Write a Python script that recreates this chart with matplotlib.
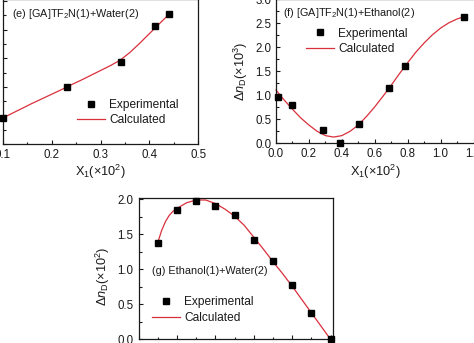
import matplotlib
matplotlib.use("Agg")
import matplotlib.pyplot as plt
from matplotlib.ticker import MultipleLocator
from matplotlib.lines import Line2D

plt.rcParams['font.family'] = ['Liberation Sans', 'DejaVu Sans']
plt.rcParams['mathtext.fontset'] = 'custom'
plt.rcParams['mathtext.rm'] = 'Liberation Sans'
plt.rcParams['mathtext.it'] = 'Liberation Sans:italic'
plt.rcParams['mathtext.bf'] = 'Liberation Sans:bold'

# (e) [GA]TF2N(1) + Water(2)
e_x = [0.10, 0.231, 0.341, 0.411, 0.441]
e_y = [0.91, 1.99, 2.87, 4.14, 4.54]
e_cx = [0.10, 0.12, 0.14, 0.16, 0.18, 0.20, 0.22, 0.24, 0.26, 0.28, 0.30,
        0.32, 0.34, 0.36, 0.38, 0.40, 0.42, 0.441]
e_cy = [0.91, 1.08, 1.25, 1.42, 1.58, 1.74, 1.90, 2.07, 2.23, 2.40, 2.57,
        2.74, 2.93, 3.20, 3.52, 3.86, 4.20, 4.55]

# (f) [GA]TF2N(1) + Ethanol(2)
f_x = [0.014, 0.095, 0.284, 0.389, 0.506, 0.687, 0.784, 1.144]
f_y = [0.97, 0.80, 0.28, 0.0, 0.40, 1.16, 1.62, 2.64]
f_cx = [0.00, 0.05, 0.10, 0.15, 0.20, 0.25, 0.30, 0.35, 0.40, 0.45, 0.50,
        0.55, 0.60, 0.65, 0.70, 0.75, 0.80, 0.85, 0.90, 0.95, 1.00, 1.05,
        1.10, 1.144]
f_cy = [1.11, 0.90, 0.71, 0.53, 0.38, 0.25, 0.16, 0.13, 0.16, 0.25, 0.38,
        0.56, 0.76, 0.98, 1.21, 1.45, 1.68, 1.90, 2.09, 2.26, 2.40, 2.51,
        2.59, 2.64]

# (g) Ethanol(1) + Water(2)
g_x = [0.1, 0.2, 0.3, 0.4, 0.5, 0.6, 0.7, 0.8, 0.9, 1.0]
g_y = [1.38, 1.85, 1.98, 1.90, 1.78, 1.42, 1.12, 0.78, 0.38, 0.0]
g_cx = [0.10, 0.12, 0.14, 0.16, 0.18, 0.20, 0.25, 0.30, 0.35, 0.40, 0.45,
        0.50, 0.55, 0.60, 0.65, 0.70, 0.75, 0.80, 0.85, 0.90, 0.95, 1.00]
g_cy = [1.38, 1.55, 1.68, 1.77, 1.83, 1.87, 1.95, 1.99, 1.99, 1.94, 1.86,
        1.76, 1.63, 1.46, 1.29, 1.11, 0.94, 0.76, 0.57, 0.38, 0.19, 0.00]

W, H = 474, 343
RED = '#d9303c'
INK = '#1a1a1a'
TICK_FS = 8.3
fig = plt.figure(figsize=(W / 100, H / 100), dpi=100)


def rect(left, top, right, bottom):
    return [left / W, 1 - bottom / H, (right - left) / W, (bottom - top) / H]


def style(ax, xmaj, xmin, ymaj, ymin):
    ax.xaxis.set_major_locator(MultipleLocator(xmaj))
    ax.xaxis.set_minor_locator(MultipleLocator(xmin))
    ax.yaxis.set_major_locator(MultipleLocator(ymaj))
    ax.yaxis.set_minor_locator(MultipleLocator(ymin))
    ax.tick_params(which='both', direction='in', colors=INK, width=0.8,
                   labelsize=TICK_FS, pad=3.5)
    ax.tick_params(which='major', length=3.2)
    ax.tick_params(which='minor', length=1.8)
    for s in ax.spines.values():
        s.set_linewidth(0.9)
        s.set_color(INK)
    ax.set_facecolor('none')


def draw(ax, x, y, cx, cy):
    ax.plot(cx, cy, color=RED, lw=0.9, clip_on=False, zorder=2)
    ax.plot(x, y, 's', color='black', ms=4.6, clip_on=False, zorder=3)


def legend(ax, x0, y0):
    handles = [Line2D([], [], ls='none', marker='s', color='black', ms=4.6),
               Line2D([], [], color=RED, lw=0.9)]
    ax.legend(handles, ['Experimental', 'Calculated'], frameon=False,
              loc='upper left', bbox_to_anchor=(x0 / W, 1 - y0 / H),
              bbox_transform=fig.transFigure, borderaxespad=0, borderpad=0,
              handlelength=2.4, handletextpad=0.35, labelspacing=0.28,
              fontsize=8.6, labelcolor=INK)


# panel e
ax_e = fig.add_axes(rect(2.8, -0.7, 198.3, 144))
ax_e.set_xlim(0.1, 0.5)
ax_e.set_ylim(0, 144.7 / 28.6)
style(ax_e, 0.1, 0.05, 1.0, 0.5)
ax_e.tick_params(axis='y', labelleft=False)
draw(ax_e, e_x, e_y, e_cx, e_cy)
legend(ax_e, 76.5, 99)
fig.text(12.5 / W, 1 - 14 / H, '(e) [GA]TF$_2$N(1)+Water(2)', fontsize=7.8,
         color=INK, va='center', ha='left')
fig.text(100 / W, 1 - 172 / H, 'X$_1$(×10$^2$)', fontsize=9.2, color=INK,
         ha='center', va='center')

# panel f
ax_f = fig.add_axes(rect(276, -0.7, 276 + 1.25 * 164.6, 143.3))
ax_f.set_xlim(0, 1.25)
ax_f.set_ylim(0, 3.0)
style(ax_f, 0.2, 0.1, 0.5, 0.25)
ax_f.spines['right'].set_visible(False)
draw(ax_f, f_x, f_y, f_cx, f_cy)
legend(ax_f, 305.5, 27.5)
fig.text(283 / W, 1 - 12.7 / H, '(f) [GA]TF$_2$N(1)+Ethanol(2)', fontsize=7.8,
         color=INK, va='center', ha='left')
fig.text(375 / W, 1 - 172 / H, 'X$_1$(×10$^2$)', fontsize=9.2, color=INK,
         ha='center', va='center')
fig.text(241 / W, 1 - 71 / H, r'$\Delta n_\mathrm{D}$(×10$^3$)', fontsize=9.2,
         color=INK, ha='center', va='center', rotation=90)

# panel g
ax_g = fig.add_axes(rect(138.5, 197.5, 333.3, 339.3))
ax_g.set_xlim(0, (333.3 - 138.5) / 192)
ax_g.set_ylim(0, (339.3 - 197.5) / 70)
style(ax_g, 0.2, 0.1, 0.5, 0.25)
ax_g.tick_params(axis='x', labelbottom=False)
draw(ax_g, g_x, g_y, g_cx, g_cy)
legend(ax_g, 151.5, 296.5)
fig.text(152 / W, 1 - 270.7 / H, '(g) Ethanol(1)+Water(2)', fontsize=7.8,
         color=INK, va='center', ha='left')
fig.text(102.5 / W, 1 - 276 / H, r'$\Delta n_\mathrm{D}$(×10$^2$)', fontsize=9.2,
         color=INK, ha='center', va='center', rotation=90)

fig.savefig('out.png', dpi=100)
